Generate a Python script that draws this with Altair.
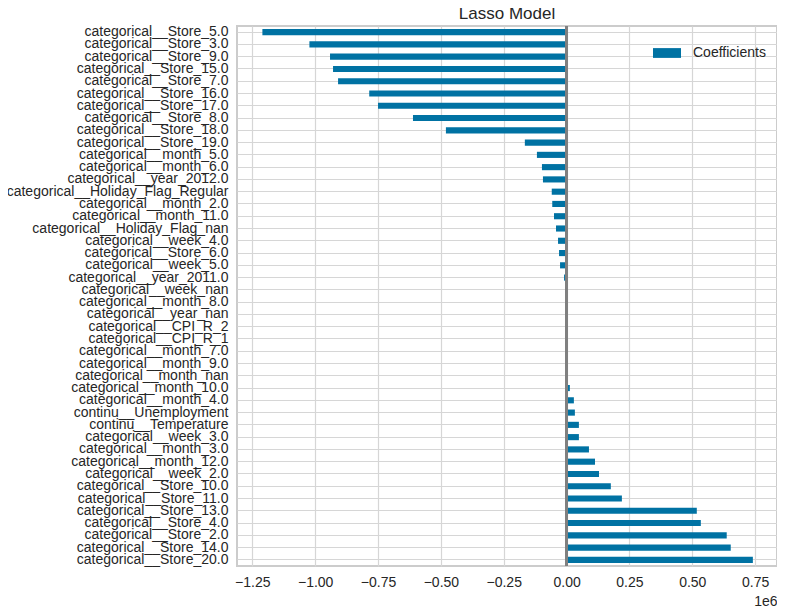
import altair as alt
import pandas as pd

chart_title = ["Lasso Model"]

features = [
    "categorical__Store_5.0", "categorical__Store_3.0", "categorical__Store_9.0",
    "categorical__Store_15.0", "categorical__Store_7.0", "categorical__Store_16.0",
    "categorical__Store_17.0", "categorical__Store_8.0", "categorical__Store_18.0",
    "categorical__Store_19.0", "categorical__month_5.0", "categorical__month_6.0",
    "categorical__year_2012.0", "categorical__Holiday_Flag_Regular", "categorical__month_2.0",
    "categorical__month_11.0", "categorical__Holiday_Flag_nan", "categorical__week_4.0",
    "categorical__Store_6.0", "categorical__week_5.0", "categorical__year_2011.0",
    "categorical__week_nan", "categorical__month_8.0", "categorical__year_nan",
    "categorical__CPI_R_2", "categorical__CPI_R_1", "categorical__month_7.0",
    "categorical__month_9.0", "categorical__month_nan", "categorical__month_10.0",
    "categorical__month_4.0", "continu__Unemployment", "continu__Temperature",
    "categorical__week_3.0", "categorical__month_3.0", "categorical__month_12.0",
    "categorical__week_2.0", "categorical__Store_10.0", "categorical__Store_11.0",
    "categorical__Store_13.0", "categorical__Store_4.0", "categorical__Store_2.0",
    "categorical__Store_14.0", "categorical__Store_20.0",
]

coefficients = [
    -1210000, -1023000, -941000, -929000, -909000, -785000,
    -750000, -611000, -480000, -166000, -118000, -98000,
    -94000, -59000, -57000, -50000, -42000, -34000,
    -30000, -26000, -10000, -6000, 0, 0,
    0, 0, 0, 0, 0, 13000,
    29000, 33000, 49000, 49000, 89000, 113000,
    129000, 176000, 220000, 518000, 534000, 637000,
    653000, 741000,
]

x_ticks = [-1250000, -1000000, -750000, -500000, -250000, 0, 250000, 500000, 750000]

df = pd.DataFrame({"feature": features, "coef": coefficients, "series": "Coefficients"})
title_df = pd.DataFrame({"text": chart_title})

font = "Liberation Sans"
text_color = "#262626"

bars = alt.Chart(df).mark_bar().encode(
    y=alt.Y(
        "feature:N",
        sort=features,
        title=None,
        scale=alt.Scale(paddingInner=0.5, paddingOuter=0.25),
        axis=alt.Axis(bandPosition=0.5, grid=True, ticks=False, domain=False, labelPadding=9,
                      labelLimit=0, labelFontSize=14, labelColor=text_color, labelFont=font,
                      gridColor="#d6d6d6", gridWidth=1.2),
    ),
    x=alt.X(
        "coef:Q",
        title="1e6",
        scale=alt.Scale(domain=[-1311000, 837000], nice=False, zero=False),
        axis=alt.Axis(values=x_ticks, ticks=False, domain=False, labelPadding=9,
                      labelExpr="replace(format(datum.value / 1e6, '.2f'), '-', '\u2212')",
                      labelFontSize=14, labelColor=text_color, labelFont=font,
                      gridColor="#d6d6d6", gridWidth=1.2,
                      titleAnchor="end", titleAlign="right", titleFontWeight="normal",
                      titleFontSize=14, titleColor=text_color, titleFont=font,
                      titlePadding=5),
    ),
    color=alt.Color(
        "series:N",
        title=None,
        scale=alt.Scale(domain=["Coefficients"], range=["#0072A3"]),
        legend=alt.Legend(orient="none", legendX=416, legendY=13, padding=0,
                          symbolType="M-1,-0.35H1V0.35H-1Z", symbolSize=784,
                          symbolStrokeWidth=0, labelOffset=12, labelFontSize=14,
                          labelColor=text_color, labelFont=font),
    ),
)

zero_line = alt.Chart(df).mark_rule(color="#808080", strokeWidth=2).encode(
    x=alt.datum(0)
)

# chart title drawn as a text mark so it stays inside the fixed padding
title = alt.Chart(title_df).mark_text(
    fontSize=17, font=font, color=text_color, align="center", baseline="alphabetic"
).encode(
    x=alt.value(270), y=alt.value(-7), text="text:N"
)

chart = alt.layer(bars, zero_line, title).properties(
    width=540,
    height=540,
    background="white",
    autosize=alt.AutoSizeParams(type="none"),
    padding={"left": 229, "top": 18, "right": 0, "bottom": 42},
).configure_view(
    stroke="#cccccc", strokeWidth=2
)

chart.save("out.html", embed_options={"renderer": "svg", "actions": False})
